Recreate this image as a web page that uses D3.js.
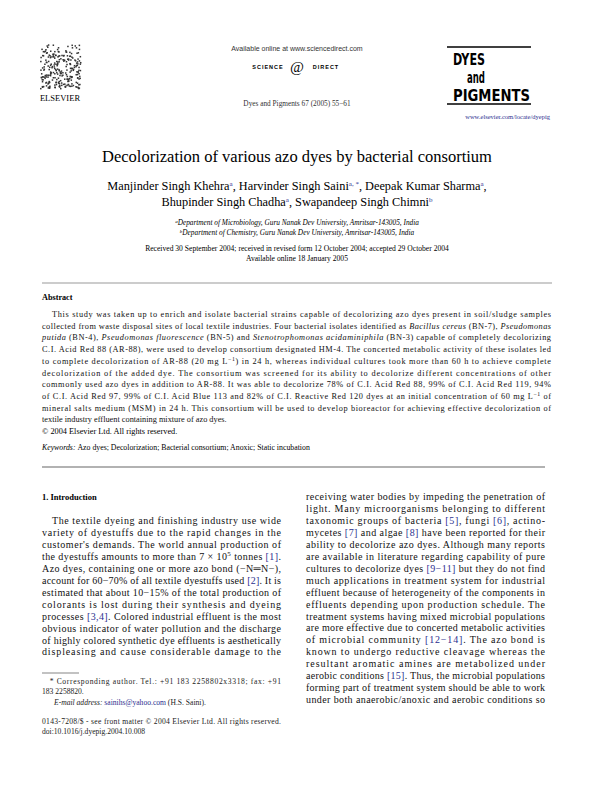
<!DOCTYPE html>
<html><head><meta charset="utf-8">
<script src="https://cdn.jsdelivr.net/npm/d3@7"></script>
<style>body{margin:0;background:#fff}svg{display:block}</style>
</head><body>
<svg id="page" width="595" height="794"></svg>
<script>
// page text, kept line by line so each line can be justified
const title = "Decolorization of various azo dyes by bacterial consortium";
const authors = [
  [["Manjinder Singh Khehra",""],["a","sup"],[", Harvinder Singh Saini",""],["a, *","sup"],[", Deepak Kumar Sharma",""],["a","sup"],[",",""]],
  [["Bhupinder Singh Chadha",""],["a","sup"],[", Swapandeep Singh Chimni",""],["b","sup"]]
];
const affiliations = [
  ["a","Department of Microbiology, Guru Nanak Dev University, Amritsar-143005, India"],
  ["b","Department of Chemistry, Guru Nanak Dev University, Amritsar-143005, India"]
];
const dates = ["Received 30 September 2004; received in revised form 12 October 2004; accepted 29 October 2004",
  "Available online 18 January 2005"];
const abstractLines = [
  "This study was taken up to enrich and isolate bacterial strains capable of decolorizing azo dyes present in soil/sludge samples",
  "collected from waste disposal sites of local textile industries. Four bacterial isolates identified as _Bacillus cereus_ (BN-7), _Pseudomonas_",
  "_putida_ (BN-4), _Pseudomonas fluorescence_ (BN-5) and _Stenotrophomonas acidaminiphila_ (BN-3) capable of completely decolorizing",
  "C.I. Acid Red 88 (AR-88), were used to develop consortium designated HM-4. The concerted metabolic activity of these isolates led",
  "to complete decolorization of AR-88 (20 mg L^−1^) in 24 h, whereas individual cultures took more than 60 h to achieve complete",
  "decolorization of the added dye. The consortium was screened for its ability to decolorize different concentrations of other",
  "commonly used azo dyes in addition to AR-88. It was able to decolorize 78% of C.I. Acid Red 88, 99% of C.I. Acid Red 119, 94%",
  "of C.I. Acid Red 97, 99% of C.I. Acid Blue 113 and 82% of C.I. Reactive Red 120 dyes at an initial concentration of 60 mg L^−1^ of",
  "mineral salts medium (MSM) in 24 h. This consortium will be used to develop bioreactor for achieving effective decolorization of",
  "textile industry effluent containing mixture of azo dyes."
];
const leftLines = [
  "The textile dyeing and finishing industry use wide",
  "variety of dyestuffs due to the rapid changes in the",
  "customer's demands. The world annual production of",
  "the dyestuffs amounts to more than 7 × 10^5^ tonnes [1].",
  "Azo dyes, containing one or more azo bond (−N═N−),",
  "account for 60−70% of all textile dyestuffs used [2]. It is",
  "estimated that about 10−15% of the total production of",
  "colorants is lost during their synthesis and dyeing",
  "processes [3,4]. Colored industrial effluent is the most",
  "obvious indicator of water pollution and the discharge",
  "of highly colored synthetic dye effluents is aesthetically",
  "displeasing and cause considerable damage to the"
];
const rightLines = [
  "receiving water bodies by impeding the penetration of",
  "light. Many microorganisms belonging to different",
  "taxonomic groups of bacteria [5], fungi [6], actino-",
  "mycetes [7] and algae [8] have been reported for their",
  "ability to decolorize azo dyes. Although many reports",
  "are available in literature regarding capability of pure",
  "cultures to decolorize dyes [9−11] but they do not find",
  "much applications in treatment system for industrial",
  "effluent because of heterogeneity of the components in",
  "effluents depending upon production schedule. The",
  "treatment systems having mixed microbial populations",
  "are more effective due to concerted metabolic activities",
  "of microbial community [12−14]. The azo bond is",
  "known to undergo reductive cleavage whereas the",
  "resultant aromatic amines are metabolized under",
  "aerobic conditions [15]. Thus, the microbial populations",
  "forming part of treatment system should be able to work",
  "under both anaerobic/anoxic and aerobic conditions so"
];

const svg = d3.select("#page");
const serif = "'Liberation Serif','DejaVu Serif',serif";
const blue = "#2b2f8f";

// renders a line with _italic_, ^sup^ and [ref] markup
function rich(sel, str) {
  const parts = str.split(/(_[^_]+_|\^[^^]+\^|\[[^\]]+\])/).filter(s => s.length);
  parts.forEach(p => {
    const t = sel.append("tspan");
    if (p[0] === "_") t.text(p.slice(1, -1)).attr("font-style", "italic");
    else if (p[0] === "^") t.text(p.slice(1, -1)).attr("baseline-shift", "super").attr("font-size", "70%");
    else if (p[0] === "[") t.text(p).attr("fill", blue);
    else t.text(p);
  });
}

function block(lines, x0, x1, y0, step, size, indent, lastRagged) {
  const y = d3.scaleLinear().domain([0, 1]).range([y0, y0 + step]);
  lines.forEach((l, i) => {
    const x = x0 + (i === 0 ? indent : 0);
    const t = svg.append("text").attr("x", x).attr("y", y(i))
      .attr("font-family", serif).attr("font-size", size).attr("fill", "#111");
    rich(t, l);
    if (!(lastRagged && i === lines.length - 1)) {
      t.attr("textLength", x1 - x).attr("lengthAdjust", "spacing");
    }
  });
}

// header
const logo = svg.append("g");
const rnd = d3.randomLcg(0.42);
for (let i = 0; i < 260; i++) {
  logo.append("rect").attr("x", 40 + rnd() * 40).attr("y", 44 + Math.pow(rnd(), 0.8) * 44)
    .attr("width", 1.5).attr("height", 1.5).attr("fill", "#333");
}
svg.append("text").attr("x", 60).attr("y", 101).attr("text-anchor", "middle")
  .attr("font-family", serif).attr("font-size", 8.5).text("ELSEVIER");
svg.append("text").attr("x", 297).attr("y", 51).attr("text-anchor", "middle")
  .attr("font-family", "'Liberation Sans',sans-serif").attr("font-size", 7).attr("fill", "#333")
  .text("Available online at www.sciencedirect.com");
svg.append("text").attr("x", 268).attr("y", 69).attr("text-anchor", "middle")
  .attr("font-family", "'Liberation Sans',sans-serif").attr("font-weight", "bold").attr("font-size", 5.5)
  .attr("letter-spacing", 1).text("SCIENCE");
svg.append("text").attr("x", 297).attr("y", 72).attr("text-anchor", "middle")
  .attr("font-family", serif).attr("font-style", "italic").attr("font-size", 15).text("@");
svg.append("text").attr("x", 326).attr("y", 69).attr("text-anchor", "middle")
  .attr("font-family", "'Liberation Sans',sans-serif").attr("font-weight", "bold").attr("font-size", 5.5)
  .attr("letter-spacing", 1).text("DIRECT");
svg.append("text").attr("x", 297).attr("y", 106).attr("text-anchor", "middle")
  .attr("font-family", serif).attr("font-size", 7.3).attr("fill", "#333").text("Dyes and Pigments 67 (2005) 55−61");
svg.append("line").attr("x1", 447).attr("x2", 531).attr("y1", 47).attr("y2", 47).attr("stroke", "#000").attr("stroke-width", 1.5);
svg.append("line").attr("x1", 447).attr("x2", 531).attr("y1", 104).attr("y2", 104).attr("stroke", "#000").attr("stroke-width", 1.5);
[["DYES", 453, 65, 32], ["and", 467, 83, 18], ["PIGMENTS", 453, 101, 77]].forEach(d => {
  svg.append("text").attr("x", d[1]).attr("y", d[2]).attr("font-family", "'DejaVu Sans Condensed','Liberation Sans Narrow',sans-serif")
    .attr("font-weight", "bold").attr("font-size", 15.5).attr("textLength", d[3]).attr("lengthAdjust", "spacingAndGlyphs").text(d[0]);
});
svg.append("text").attr("x", 550).attr("y", 119).attr("text-anchor", "end")
  .attr("font-family", serif).attr("font-size", 6.5).attr("fill", blue).text("www.elsevier.com/locate/dyepig");

// title block
svg.append("text").attr("x", 297).attr("y", 162).attr("text-anchor", "middle")
  .attr("font-family", serif).attr("font-size", 16.5).text(title);
authors.forEach((a, i) => {
  const t = svg.append("text").attr("x", 297).attr("y", 190 + i * 15.5).attr("text-anchor", "middle")
    .attr("font-family", serif).attr("font-size", 12.3);
  a.forEach(p => {
    const s = t.append("tspan").text(p[0]);
    if (p[1] === "sup") s.attr("baseline-shift", "super").attr("font-size", 7).attr("fill", blue);
  });
});
affiliations.forEach((a, i) => {
  const t = svg.append("text").attr("x", 297).attr("y", 225 + i * 9.5).attr("text-anchor", "middle")
    .attr("font-family", serif).attr("font-size", 7.3).attr("font-style", "italic");
  t.append("tspan").text(a[0]).attr("baseline-shift", "super").attr("font-size", 5);
  t.append("tspan").text(a[1]);
});
dates.forEach((d, i) => {
  svg.append("text").attr("x", 297).attr("y", 251 + i * 9.5).attr("text-anchor", "middle")
    .attr("font-family", serif).attr("font-size", 7.6).text(d);
});
svg.append("line").attr("x1", 42).attr("x2", 552).attr("y1", 283).attr("y2", 283).attr("stroke", "#999").attr("stroke-width", 1);

// abstract
svg.append("text").attr("x", 42).attr("y", 300).attr("font-family", serif).attr("font-weight", "bold")
  .attr("font-size", 8.2).text("Abstract");
block(abstractLines, 42, 551, 317, 11.7, 8.3, 10, true);
svg.append("text").attr("x", 42).attr("y", 317 + 10 * 11.7).attr("font-family", serif).attr("font-size", 8.3)
  .text("© 2004 Elsevier Ltd. All rights reserved.");
const kw = svg.append("text").attr("x", 42).attr("y", 450).attr("font-family", serif).attr("font-size", 7.8);
kw.append("tspan").attr("font-style", "italic").text("Keywords: ");
kw.append("tspan").text("Azo dyes; Decolorization; Bacterial consortium; Anoxic; Static incubation");
svg.append("line").attr("x1", 42).attr("x2", 545).attr("y1", 467).attr("y2", 467).attr("stroke", "#999").attr("stroke-width", 1.3);

// body
svg.append("text").attr("x", 42).attr("y", 500).attr("font-family", serif).attr("font-weight", "bold")
  .attr("font-size", 8.5).text("1. Introduction");
block(leftLines, 42, 281, 524, 11.95, 10, 10, false);
block(rightLines, 306, 545, 500, 11.95, 10, 0, false);

// footnotes
svg.append("line").attr("x1", 42).attr("x2", 79).attr("y1", 673).attr("y2", 673).attr("stroke", "#333").attr("stroke-width", 0.6);
const fn = [
  ["   * Corresponding author. Tel.: +91 183 2258802x3318; fax: +91", 42, 684],
  ["183 2258820.", 42, 694],
  ["0143-7208/$ - see front matter © 2004 Elsevier Ltd. All rights reserved.", 42, 724],
  ["doi:10.1016/j.dyepig.2004.10.008", 42, 734]
];
fn.forEach(f => {
  const t = svg.append("text").attr("x", f[1]).attr("y", f[2]).attr("font-family", serif)
    .attr("font-size", 7.6).attr("xml:space", "preserve").attr("fill", "#222").text(f[0]);
  if (f[0].length > 40) t.attr("textLength", 239).attr("lengthAdjust", "spacing");
});
const em = svg.append("text").attr("x", 54).attr("y", 705).attr("font-family", serif).attr("font-size", 7.6).attr("fill", "#222");
em.append("tspan").attr("font-style", "italic").text("E-mail address: ");
em.append("tspan").attr("fill", blue).text("sainihs@yahoo.com");
em.append("tspan").text(" (H.S. Saini).");
</script>
</body></html>
